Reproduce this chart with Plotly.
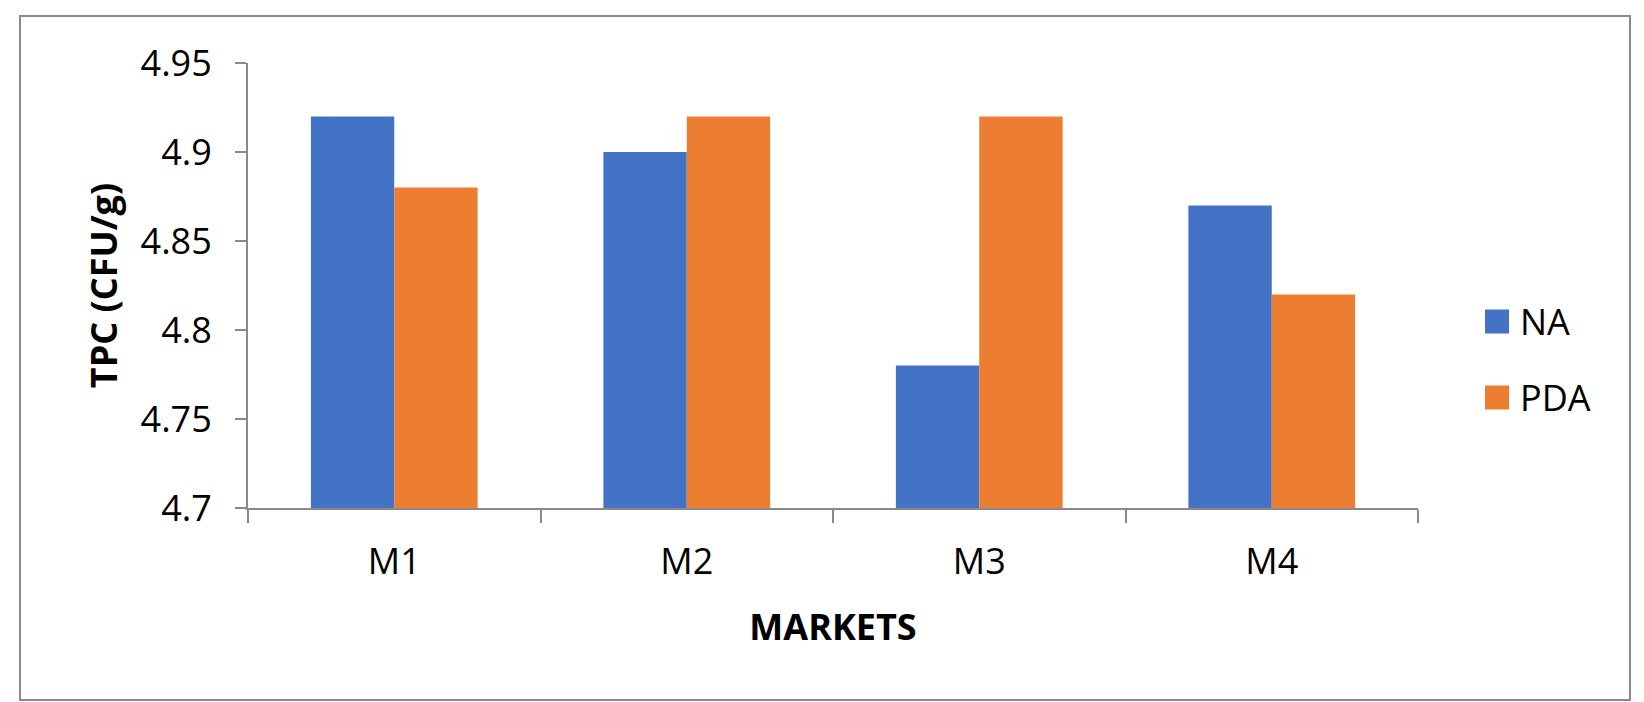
import plotly.graph_objects as go

markets = ["M1", "M2", "M3", "M4"]
series_names = ["NA", "PDA"]
na_values = [4.92, 4.90, 4.78, 4.87]
pda_values = [4.88, 4.92, 4.92, 4.82]
y_ticks = [4.7, 4.75, 4.8, 4.85, 4.9, 4.95]
y_tick_text = ["4.7", "4.75", "4.8", "4.85", "4.9", "4.95"]

colors = ["#4472C4", "#ED7D31"]
axis_grey = "#898989"
font_family = "Open Sans, Noto Sans, sans-serif"

# pixel layout of the 1644x702 page
W, H = 1644, 702
plot_left, plot_right = 248, 1418
plot_top, plot_bottom = 63, 508
plot_w = plot_right - plot_left
plot_h = plot_bottom - plot_top


def px_x(x):
    return (x - plot_left) / plot_w


def px_y(y):
    return (plot_bottom - y) / plot_h


fig = go.Figure()
for name, values, color in zip(series_names, [na_values, pda_values], colors):
    fig.add_trace(go.Bar(x=markets, y=values, name=name, marker=dict(color=color, line=dict(width=0))))

fig.update_layout(
    width=W,
    height=H,
    margin=dict(l=plot_left, r=W - plot_right, t=plot_top, b=H - plot_bottom, pad=0),
    paper_bgcolor="white",
    plot_bgcolor="white",
    barmode="group",
    bargap=0.43,
    bargroupgap=0,
    showlegend=False,
    font=dict(family=font_family, size=36, color="black"),
)

fig.update_xaxes(
    showline=True,
    linecolor=axis_grey,
    linewidth=2,
    ticks="outside",
    tickson="boundaries",
    ticklen=13,
    tickwidth=2,
    tickcolor=axis_grey,
    showgrid=False,
    ticklabelstandoff=21,
    tickfont=dict(size=36),
    title=dict(text="MARKETS", font=dict(size=36, weight="bold"), standoff=31),
)
fig.update_yaxes(
    range=[4.7, 4.95],
    tickvals=y_ticks,
    ticktext=y_tick_text,
    showline=True,
    linecolor=axis_grey,
    linewidth=2,
    ticks="outside",
    ticklen=11,
    tickwidth=2,
    tickcolor=axis_grey,
    showgrid=False,
    zeroline=False,
    ticklabelstandoff=16,
    tickfont=dict(size=36),
    title=dict(text="TPC (CFU/g)", font=dict(size=36, weight="bold"), standoff=12),
)

# outer chart border
fig.add_shape(
    type="rect",
    xref="paper",
    yref="paper",
    x0=px_x(20),
    x1=px_x(1630),
    y0=px_y(700),
    y1=px_y(16),
    line=dict(color=axis_grey, width=2),
    layer="below",
)

# legend drawn by hand so the swatches match the reference size
legend_rows = [321.5, 397.5]
for name, color, yc in zip(series_names, colors, legend_rows):
    fig.add_shape(
        type="rect",
        xref="paper",
        yref="paper",
        x0=px_x(1485),
        x1=px_x(1509),
        y0=px_y(yc + 12),
        y1=px_y(yc - 12),
        line=dict(width=0),
        fillcolor=color,
    )
    fig.add_annotation(
        xref="paper",
        yref="paper",
        x=px_x(1518),
        y=px_y(yc),
        text=name,
        showarrow=False,
        xanchor="left",
        yanchor="middle",
        font=dict(size=36, color="black"),
    )

# drop the default body margin so the figure sits at the page origin
fig.write_html(
    "out.html",
    config={"displayModeBar": False},
    post_script="document.body.style.margin='0';",
)
